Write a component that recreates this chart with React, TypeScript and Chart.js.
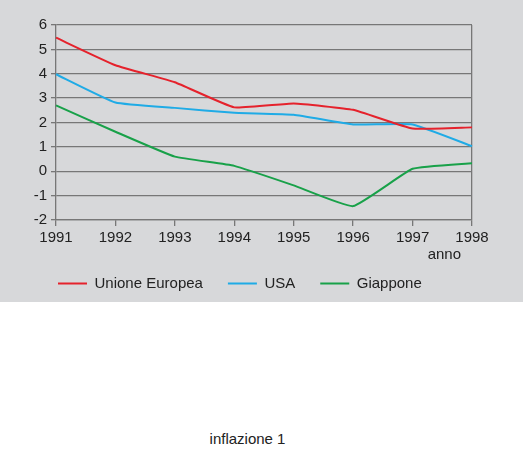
import { useEffect, useRef } from 'react'
import { Chart, registerables } from 'chart.js'

Chart.register(...registerables)

const YEARS = ['1991', '1992', '1993', '1994', '1995', '1996', '1997', '1998']
const UNIONE_EUROPEA = [5.48, 4.35, 3.65, 2.62, 2.78, 2.52, 1.75, 1.8]
const USA = [3.98, 2.82, 2.6, 2.4, 2.32, 1.92, 1.92, 1.03]
const GIAPPONE = [2.7, 1.62, 0.6, 0.22, -0.58, -1.43, 0.1, 0.33]
const X_TITLE = 'anno'

const GRID = '#777777'
const TEXT = '#222222'
const FONT = { family: '"Liberation Sans", Arial, sans-serif', size: 15 }

// x-axis title sits under the last tick label, slightly left of the axis end
const axisTitle = {
  id: 'axisTitle',
  afterDraw(chart: any) {
    const { ctx, chartArea } = chart
    ctx.save()
    ctx.font = `${FONT.size}px ${FONT.family}`
    ctx.fillStyle = TEXT
    ctx.textAlign = 'right'
    ctx.textBaseline = 'middle'
    ctx.fillText(X_TITLE, chartArea.right - 11, chartArea.bottom + 35)
    ctx.restore()
  },
}

export default function App() {
  const canvasRef = useRef<HTMLCanvasElement>(null)

  useEffect(() => {
    const canvas = canvasRef.current
    if (!canvas) return
    document.body.style.margin = '0'

    const chart = new Chart(canvas, {
      type: 'line',
      data: {
        labels: YEARS,
        datasets: [
          { label: 'Unione Europea', data: UNIONE_EUROPEA, borderColor: '#e5222c', backgroundColor: '#e5222c' },
          { label: 'USA', data: USA, borderColor: '#1fabe6', backgroundColor: '#1fabe6' },
          { label: 'Giappone', data: GIAPPONE, borderColor: '#18a149', backgroundColor: '#18a149' },
        ],
      },
      plugins: [axisTitle],
      options: {
        responsive: false,
        animation: false,
        events: [],
        elements: {
          line: { borderWidth: 2, tension: 0.12 },
          point: { radius: 0 },
        },
        layout: { padding: { left: 33, right: 51, top: 25, bottom: 1 } },
        scales: {
          x: {
            offset: false,
            afterFit: (s: any) => {
              s.height = 31
            },
            grid: {
              color: (ctx: any) => (ctx.index === YEARS.length - 1 ? GRID : 'transparent'),
              tickColor: GRID,
              tickLength: 6,
              lineWidth: 1.3,
            },
            border: { color: GRID, width: 1.3 },
            ticks: { color: TEXT, font: FONT, padding: 3, maxRotation: 0 },
          },
          y: {
            min: -2,
            max: 6,
            afterFit: (s: any) => {
              s.width = 23
            },
            grid: { color: GRID, tickColor: GRID, tickLength: 5, lineWidth: 1.3 },
            border: { color: GRID, width: 1.3 },
            ticks: { stepSize: 1, color: TEXT, font: FONT, padding: 4 },
          },
        },
        plugins: {
          tooltip: { enabled: false },
          legend: {
            position: 'bottom',
            align: 'start',
            labels: {
              boxWidth: 29,
              boxHeight: 0,
              padding: 25,
              color: TEXT,
              font: FONT,
            },
          },
        },
      },
    })

    return () => {
      chart.destroy()
    }
  }, [])

  return (
    <div style={{ position: 'relative', width: 523, height: 450, background: '#fff', fontFamily: FONT.family }}>
      <div style={{ position: 'absolute', left: 0, top: 0, width: 523, height: 302, background: '#d7d8da' }}>
        <canvas ref={canvasRef} width={523} height={302} />
      </div>
      <div
        style={{
          position: 'absolute',
          left: 0,
          width: 495,
          top: 430,
          textAlign: 'center',
          fontSize: 15,
          color: TEXT,
        }}
      >
        inflazione 1
      </div>
    </div>
  )
}
